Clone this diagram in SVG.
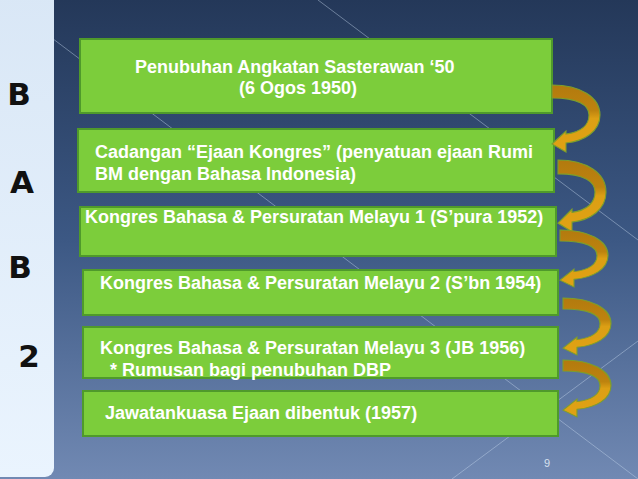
<svg xmlns="http://www.w3.org/2000/svg" width="638" height="479" viewBox="0 0 638 479">
<defs>
<linearGradient id="bg" x1="0" y1="0" x2="0" y2="1">
<stop offset="0" stop-color="#243859"/>
<stop offset="0.5" stop-color="#3c5884"/>
<stop offset="1" stop-color="#7189b3"/>
</linearGradient>
<linearGradient id="pill" x1="0" y1="0" x2="0" y2="1">
<stop offset="0" stop-color="#d9e7f6"/>
<stop offset="1" stop-color="#eaf4fe"/>
</linearGradient>
<linearGradient id="arr" x1="0" y1="0" x2="0" y2="1">
<stop offset="0" stop-color="#b27a0e"/>
<stop offset="0.38" stop-color="#bd830f"/>
<stop offset="0.5" stop-color="#dc9f14"/>
<stop offset="1" stop-color="#e0a214"/>
</linearGradient>
<path id="carrow" d="M0,0 C28,0 48,12 48,30 C48,46 33,56 14,58 L14,67 L0,59 L14,46 L14,49 C29,47 37,40 37,30 C37,20 26,13 0,13 Z"/>
</defs>
<style>
.box{fill:#7ccd3b;stroke:#4f9a2b;stroke-width:2}
.t{font-family:"Liberation Sans",Arial,sans-serif;font-weight:bold;font-size:18px;fill:#ffffff}
.big{font-family:"DejaVu Sans","Liberation Sans",sans-serif;font-weight:bold;font-size:31px;fill:#111111;text-anchor:middle}
.ar{fill:url(#arr);stroke:#7d9e2c;stroke-width:1.1}
.ln{stroke:#c4d4ea;stroke-opacity:0.45;stroke-width:1;fill:none}
</style>
<rect x="0" y="0" width="638" height="479" fill="url(#bg)"/>
<g id="bglines">
<line class="ln" x1="0" y1="-1" x2="638" y2="479"/>
<line class="ln" x1="452" y1="479" x2="638" y2="341"/>
<line class="ln" x1="318" y1="0" x2="638" y2="240" stroke-opacity="0.2"/>
</g>
<g id="sidebar">
<rect x="-12" y="-10" width="66" height="487" rx="9" fill="url(#pill)"/>
<text class="big" x="19" y="105">B</text>
<text class="big" x="22" y="193">A</text>
<text class="big" x="20" y="278">B</text>
<text class="big" x="29" y="367">2</text>
</g>
<g id="n1">
<rect class="box" x="80" y="39" width="472" height="74"/>
<text class="t" x="135" y="73">Penubuhan Angkatan Sasterawan ‘50</text>
<text class="t" x="239" y="94">(6 Ogos 1950)</text>
</g>
<g id="n2">
<rect class="box" x="78" y="129" width="476" height="63"/>
<text class="t" x="95" y="158">Cadangan “Ejaan Kongres” (penyatuan ejaan Rumi</text>
<text class="t" x="95" y="180">BM dengan Bahasa Indonesia)</text>
</g>
<g id="n3">
<rect class="box" x="80" y="207" width="476" height="49"/>
<text class="t" x="85" y="223">Kongres Bahasa &amp; Persuratan Melayu 1 (S’pura 1952)</text>
</g>
<g id="n4">
<rect class="box" x="83" y="270" width="475" height="45"/>
<text class="t" x="100" y="289">Kongres Bahasa &amp; Persuratan Melayu 2 (S’bn 1954)</text>
</g>
<g id="n5">
<rect class="box" x="83" y="327" width="475" height="51"/>
<text class="t" x="100" y="354">Kongres Bahasa &amp; Persuratan Melayu 3 (JB 1956)</text>
<text class="t" x="110" y="376">* Rumusan bagi penubuhan DBP</text>
</g>
<g id="n6">
<rect class="box" x="83" y="391" width="475" height="45"/>
<text class="t" x="105" y="419">Jawatankuasa Ejaan dibentuk (1957)</text>
</g>
<g id="connectors">
<use href="#carrow" class="ar" transform="translate(552,85)"/>
<use href="#carrow" class="ar" transform="translate(558,160) scale(1,1.07)"/>
<use href="#carrow" class="ar" transform="translate(560,230) scale(1,0.85)"/>
<use href="#carrow" class="ar" transform="translate(563,298) scale(1,0.85)"/>
<use href="#carrow" class="ar" transform="translate(563,360) scale(1,0.85)"/>
</g>
<text x="547" y="467" font-family="Liberation Sans,Arial,sans-serif" font-size="11" fill="#d6e0ee" text-anchor="middle">9</text>
</svg>
